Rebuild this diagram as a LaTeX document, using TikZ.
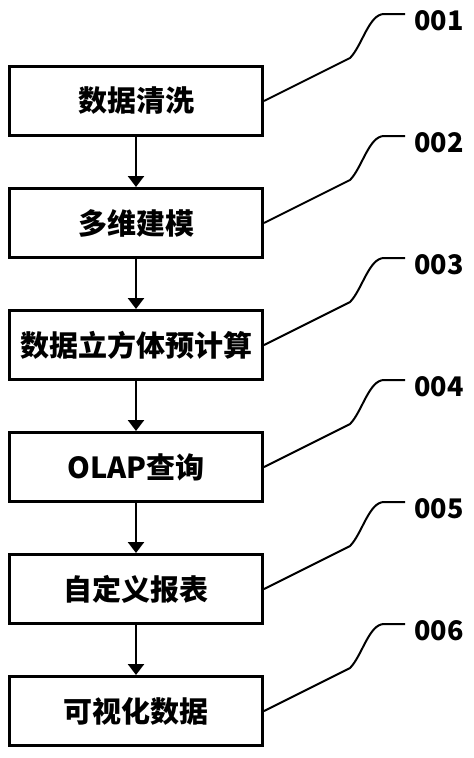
\documentclass[tikz,border=0pt]{standalone}
\usepackage{fontspec}
\setmainfont{Noto Sans CJK SC}
\usetikzlibrary{positioning,arrows.meta}
\tikzset{
  box/.style={draw, line width=3pt, minimum width=253pt, minimum height=69pt, inner sep=2pt,
    font=\bfseries\fontsize{29}{31}\selectfont},
  arr/.style={line width=2.5pt, -{Triangle[width=16pt,length=11pt]}},
  lead/.style={line width=2pt},
  num/.style={anchor=west, inner sep=0pt, font=\bfseries\fontsize{27}{30}\selectfont}
}
\begin{document}
\begin{tikzpicture}
\useasboundingbox (0,0) rectangle (474pt,-758pt);
\node[box] (a) at (136pt,-101pt) {数据清洗};
\node[box, below=50pt of a] (b) {多维建模};
\node[box, below=50pt of b] (c) {数据立方体预计算};
\node[box, below=50pt of c] (d) {OLAP查询};
\node[box, below=50pt of d] (e) {自定义报表};
\node[box, below=50pt of e] (f) {可视化数据};
\draw[arr] (a) -- (b);
\draw[arr] (b) -- (c);
\draw[arr] (c) -- (d);
\draw[arr] (d) -- (e);
\draw[arr] (e) -- (f);
% leader lines and step numbers
\foreach \n/\t in {a/001,b/002,c/003,d/004,e/005,f/006}{
  \node[num] (\n num) at ([shift={(150pt,80pt)}]\n.east) {\t};
  \coordinate (\n tip) at ([shift={(-9pt,7pt)}]\n num.west);
  \draw[lead] (\n.east) -- ([shift={(86pt,43pt)}]\n.east)
    .. controls ([shift={(98pt,55pt)}]\n.east) and ([shift={(105pt,87pt)}]\n.east)
    .. ([shift={(120pt,87pt)}]\n.east) -- (\n tip);
}
\end{tikzpicture}
\end{document}
